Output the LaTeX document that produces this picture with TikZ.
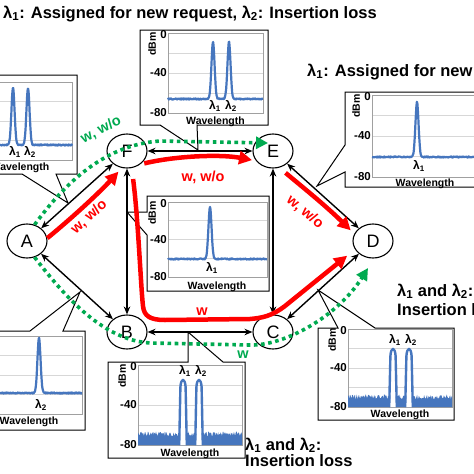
\documentclass[tikz,border=0pt]{standalone}
\usepackage{fontspec}
\setmainfont{Liberation Sans}
\usetikzlibrary{arrows.meta,shapes.geometric}
\definecolor{specblue}{RGB}{70,118,190}
\definecolor{pathgreen}{RGB}{0,170,80}
\definecolor{pathred}{RGB}{255,0,0}
\definecolor{framegray}{RGB}{160,160,160}
\definecolor{gridgray}{RGB}{215,215,215}
\newcommand{\fsz}[1]{\fontsize{#1pt}{#1pt}\selectfont}
\newcommand{\lam}[1]{λ\textsubscript{#1}}
% frame + grid: L T R B
\newcommand{\specframe}[4]{%
  \pgfmathsetmacro{\gA}{#2+(#4-#2)*0.25}%
  \pgfmathsetmacro{\gB}{#2+(#4-#2)*0.5}%
  \pgfmathsetmacro{\gC}{#2+(#4-#2)*0.75}%
  \draw[gridline] (#1,\gA) -- (#3,\gA) (#1,\gB) -- (#3,\gB) (#1,\gC) -- (#3,\gC);
  \draw[frameline] (#1,#2) rectangle (#3,#4);
}
% axis labels: L T B name
\newcommand{\specaxes}[4]{%
  \pgfmathsetmacro{\gM}{(#2+#3)*0.5}%
  \node[ticklbl,anchor=east] (#4z) at (#1-1,#2+2) {0};
  \node[ticklbl,anchor=east] (#4m) at (#1-1,\gM) {-40};
  \node[ticklbl,anchor=east] (#4b) at (#1-1,#3) {-80};
  \node[dbm] (#4d) at (#1-16,#2+11) {dBm};
}
% clean spectrum: L R base p1 a1 p2 a2
\newcommand{\linespec}[7]{%
  \draw[specline] plot[samples=220,domain=#1:#2] (\x,{#3+0.6*rand-#5*exp(0-pow(min(abs((\x-#4)/2.2),3),2))-#7*exp(0-pow(min(abs((\x-#6)/2.2),3),2))});
}
% noisy floor: L R base B
\newcommand{\noisefill}[4]{%
  \fill[specblue] (#1,#4) -- plot[samples=180,domain=#1:#2] (\x,{#3+2.5*rand}) -- (#2,#4) -- cycle;
}
% wide peak: p top B
\newcommand{\fatpeak}[3]{%
  \fill[white] (#1-3,#3) -- (#1-1.6,#2+12) -- (#1+1.6,#2+12) -- (#1+3,#3) -- cycle;
  \draw[specblue,line width=2.4pt,line join=round] (#1-3.8,#3) -- (#1-2.6,#2+8) .. controls (#1-2,#2-1.5) and (#1+2,#2-1.5) .. (#1+2.6,#2+8) -- (#1+3.8,#3);
}
\begin{document}
\begin{tikzpicture}[x=1pt,y=-1pt,
  netnode/.style={ellipse,draw,line width=1.1pt,fill=white,minimum width=40pt,minimum height=34pt,inner sep=0pt,font=\fsz{18}},
  biarrow/.style={line width=1.4pt,{Stealth[length=8pt,width=6.5pt]}-{Stealth[length=8pt,width=6.5pt]}},
  redpath/.style={pathred,line width=4.5pt,line join=round,-{Triangle[length=13pt,width=13pt]}},
  greenpath/.style={pathgreen,line width=3.6pt,dash pattern=on 3.6pt off 3.6pt,-{Triangle[length=12pt,width=12pt]}},
  calloutbox/.style={draw=black,line width=1pt,fill=white,line join=miter},
  gridline/.style={gridgray,line width=0.8pt},
  frameline/.style={framegray,line width=1pt},
  specline/.style={specblue,line width=2.2pt,line join=round},
  ticklbl/.style={font=\fsz{11.5}\bfseries,inner sep=0pt},
  dbm/.style={font=\fsz{10.5}\bfseries,inner sep=0pt,rotate=90},
  wl/.style={font=\fsz{10.5}\bfseries,inner sep=0pt},
  lamlbl/.style={font=\fsz{12}\bfseries,inner sep=0pt},
  redlbl/.style={font=\fsz{14.5}\bfseries,text=pathred,inner sep=0pt},
  greenlbl/.style={font=\fsz{14.5}\bfseries,text=pathgreen,inner sep=0pt},
  ttl/.style={font=\fsz{16.5}\bfseries,inner sep=0pt}
]
\pgfmathsetseed{12345}
\useasboundingbox (0,0) rectangle (474,474);
\clip (0,0) rectangle (474,474);

% network nodes
\node[netnode] (A) at (27,241) {A};
\node[netnode] (F) at (127,151) {F};
\node[netnode] (E) at (273,151) {E};
\node[netnode] (D) at (373,241) {D};
\node[netnode] (B) at (127,332) {B};
\node[netnode] (C) at (273,332) {C};

% links
\draw[biarrow] (A) -- (F);
\draw[biarrow] (A) -- (B);
\draw[biarrow] (F) -- (E);
\draw[biarrow] (F) -- (B);
\draw[biarrow] (E) -- (C);
\draw[biarrow] (B) -- (C);
\draw[biarrow] (E) -- (D);
\draw[biarrow] (C) -- (D);

% callout boxes
\draw[calloutbox] (-5,75) -- (77,75) -- (77,174) -- (56,174) -- (68,203) -- (22,174) -- (-5,174) -- cycle;
\draw[calloutbox] (140,30) -- (268,30) -- (268,125) -- (197,125) -- (198,150) -- (160,125) -- (140,125) -- cycle;
\draw[calloutbox] (345,92) -- (480,92) -- (480,187) -- (345,187) -- (345,172) -- (317,186) -- (345,145) -- cycle;
\draw[calloutbox] (147,196) -- (269,196) -- (269,291) -- (147,291) -- (147,235) -- (127,212) -- (147,212) -- cycle;
\draw[calloutbox] (-5,331) -- (30,331) -- (80,292) -- (63,331) -- (85,331) -- (85,430) -- (-5,430) -- cycle;
\draw[calloutbox] (108,362) -- (188,362) -- (188,332) -- (223,362) -- (245,362) -- (245,458) -- (108,458) -- cycle;
\draw[calloutbox] (318,328) -- (338,328) -- (318,290) -- (375,328) -- (454,328) -- (454,420) -- (318,420) -- cycle;

% P1 (top left)
\specframe{-10}{82}{72}{160}
\linespec{-10}{72}{145}{13}{57}{28}{57}
\node[lamlbl] (p1l1) at (15,152) {\lam{1}};
\node[lamlbl] (p1l2) at (30,152) {\lam{2}};
\node[wl] (p1w) at (20,168) {Wavelength};

% P2 (top centre)
\specframe{168}{33}{263}{113}
\specaxes{168}{33}{113}{p2}
\linespec{168}{263}{99}{213}{57}{229}{57}
\node[lamlbl] (p2l1) at (215,106) {\lam{1}};
\node[lamlbl] (p2l2) at (231,106) {\lam{2}};
\node[wl] (p2w) at (215.5,122) {Wavelength};

% P3 (top right)
\specframe{372}{95}{480}{177}
\specaxes{372}{95}{177}{p3}
\linespec{372}{480}{157}{417}{55}{0}{0}
\node[lamlbl] (p3l1) at (419,166) {\lam{1}};
\node[wl] (p3w) at (425,184) {Wavelength};

% P4 (middle)
\specframe{168}{202}{267}{277}
\specaxes{168}{202}{277}{p4}
\linespec{168}{267}{259}{210}{52}{0}{0}
\node[lamlbl] (p4l1) at (212,268) {\lam{1}};
\node[wl] (p4w) at (217,287) {Wavelength};

% P5 (bottom left)
\specframe{-10}{336}{82}{414}
\linespec{-10}{82}{393}{39}{55}{0}{0}
\node[lamlbl] (p5l2) at (41,405) {\lam{2}};
\node[wl] (p5w) at (29,422) {Wavelength};

% P6 (bottom centre)
\specframe{138}{365}{242}{445}
\specaxes{138}{365}{445}{p6}
\noisefill{138}{242}{434}{445}
\fatpeak{183}{379}{445}
\fatpeak{199}{379}{445}
\node[lamlbl] (p6l1) at (185,371) {\lam{1}};
\node[lamlbl] (p6l2) at (201,371) {\lam{2}};
\node[wl] (p6w) at (190,454) {Wavelength};

% P7 (bottom right)
\specframe{348}{329}{452}{407}
\specaxes{348}{329}{407}{p7}
\noisefill{348}{452}{397}{407}
\fatpeak{393}{348}{407}
\fatpeak{409}{348}{407}
\node[lamlbl] (p7l1) at (395,340) {\lam{1}};
\node[lamlbl] (p7l2) at (411,340) {\lam{2}};
\node[wl] (p7w) at (400,415) {Wavelength};

% red routes
\draw[redpath,shorten >=5pt] (A.8) .. controls (72,218) and (100,192) .. (F.253);
\draw[redpath,shorten <=4pt,shorten >=4pt] (F.-45) .. controls (175,156) and (220,154) .. (E.210);
\draw[redpath,shorten <=8pt,shorten >=5pt] (E.-69) .. controls (300,185) and (325,205) .. (D.159);
\draw[redpath,shorten <=11pt,shorten >=10pt] (F.-75) .. controls (138,215) and (141,290) .. (143,306) .. controls (144,316) and (150,320) .. (165,320) -- (250,319) .. controls (262,318) and (272,316) .. (285,306) -- (D.205);

% green routes
\coordinate (gE) at (268,143);
\coordinate (gD) at (368,268);
\draw[greenpath] (A.65) .. controls (60,190) and (100,145) .. (160,141) -- (gE);
\draw[greenpath] (A.-65) .. controls (60,290) and (100,340) .. (150,343) -- (250,345) .. controls (285,346) and (338,316) .. (gD);

% route labels
\node[redlbl,rotate=42] (lAF) at (89,217) {w, w/o};
\node[redlbl] (lFE) at (203,177) {w, w/o};
\node[redlbl,rotate=-40] (lED) at (305,212) {w, w/o};
\node[redlbl] (lBCD) at (202,312) {w};
\node[greenlbl,rotate=27] (lg1) at (101,130) {w, w/o};
\node[greenlbl] (lg2) at (243,355) {w};

% titles
\node[ttl,anchor=base west] (t1) at (3,18) {\lam{1}: Assigned for new request, \lam{2}: Insertion loss};
\node[ttl,anchor=base west] (t2) at (307,76) {\lam{1}: Assigned for new};
\node[ttl,anchor=base west] (t3) at (245,450) {\lam{1} and \lam{2}:};
\node[ttl,anchor=base west] (t4) at (245,466) {Insertion loss};
\node[ttl,anchor=base west] (t5) at (397,296) {\lam{1} and \lam{2}:};
\node[ttl,anchor=base west] (t6) at (397,315) {Insertion l};
\end{tikzpicture}
\end{document}
